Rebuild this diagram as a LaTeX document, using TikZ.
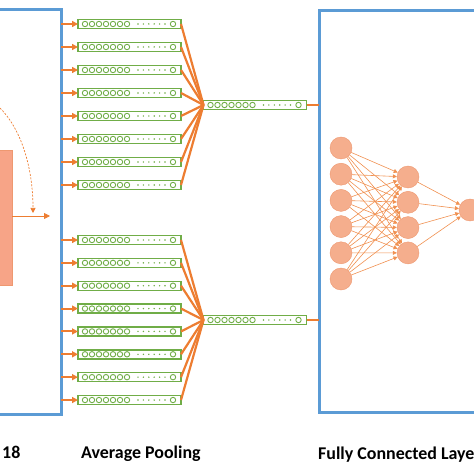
\documentclass[tikz,border=0pt]{standalone}
\usepackage{fontspec}
\setmainfont{Carlito}
\usetikzlibrary{arrows.meta,%
	positioning,%
	calc}
\definecolor{boxblue}{HTML}{5B9BD5}
\definecolor{lineorange}{HTML}{ED7D31}
\definecolor{bargreen}{HTML}{70AD47}
\definecolor{unitfill}{HTML}{F5AE8D}
\definecolor{unitdraw}{HTML}{EE9870}
\definecolor{blockfill}{HTML}{F7A487}

\begin{document}
\begin{tikzpicture}[x=1bp, y=-1bp, frame/.style = {draw=boxblue, line width=3bp, minimum width=#1, inner sep=0pt, outer sep=0pt}, featbar/.style = {draw=bargreen, line width=1.4bp, fill=white, minimum width=103bp, minimum height=9bp, inner sep=0pt, outer sep=0pt}, feed/.style = {draw=lineorange, line width=2bp, -{Triangle[length=6bp,width=6bp]}}, fan/.style = {draw=lineorange, line width=2.2bp}, unit/.style = {circle, draw=unitdraw, fill=unitfill, minimum size=22bp, inner sep=0pt}, link/.style = {draw=lineorange!85, line width=0.6bp, -{Triangle[length=4bp,width=4bp]}}, caption/.style = {font=\bfseries\fontsize{18}{20}\selectfont, anchor=base west, inner sep=0pt}]
	\useasboundingbox (0,0) rectangle (474,474);
	% frames
	\node[frame=71bp, minimum height=404bp] (cnn) at (25.5,212) {};
	\node[frame=171bp, minimum height=401bp] (fc) at (404.5,211.5) {};
	% backbone block
	\node[draw=unitdraw, fill=blockfill, minimum width=24bp, minimum height=135bp, inner sep=0pt] (block) at (0,217.5) {};
	\coordinate (src) at (0,108);
	\coordinate (drop) at (33,213);
	\coordinate (gap) at (50,216);
	\draw[lineorange, line width=0.7bp, dash pattern=on 2bp off 1.5bp, -{Triangle[length=5bp,width=5bp]}] (src) .. controls (20,128) and (33,165) .. (drop);
	\draw[lineorange, line width=0.8bp, -{Triangle[length=6bp,width=6bp]}] (block.east |- gap) -- (gap);
	% feature bars
	\foreach \i in {1,...,8}{
		\node[featbar] (t\i) at (129.5, {24+23*(\i-1)}) {};
		\node[featbar] (b\i) at (129.5, {240+22.86*(\i-1)}) {};
	}
	\node[featbar] (tp) at (255,105) {};
	\node[featbar] (bp) at (255,320) {};
	\foreach \n in {t1,t2,t3,t4,t5,t6,t7,t8,b1,b2,b3,b4,b5,b6,b7,b8,tp,bp}{
		\foreach \k in {1,...,7}
			\draw[bargreen, line width=0.9bp] ($(\n.west)+(7*\k,0)$) circle (2.7bp);
		\foreach \k in {0,...,5}
			\fill[bargreen] ($(\n.west)+(60+5.4*\k,0)$) circle (0.8bp);
		\draw[bargreen, line width=0.9bp] ($(\n.west)+(95,0)$) circle (2.7bp);
	}
	\foreach \i in {1,...,8}{
		\draw[feed] (cnn.east |- t\i) -- (t\i.west);
		\draw[feed] (cnn.east |- b\i) -- (b\i.west);
		\draw[fan] (t\i.east) -- (tp.west);
		\draw[fan] (b\i.east) -- (bp.west);
	}
	\draw[fan, line width=1.8bp] (tp.east) -- (fc.west |- tp);
	\draw[fan, line width=1.8bp] (bp.east) -- (fc.west |- bp);
	% fully connected net
	\foreach \a in {1,...,6}
		\node[unit] (i\a) at (341, {148+26.2*(\a-1)}) {};
	\foreach \b in {1,...,4}
		\node[unit] (h\b) at (408, {177+25.3*(\b-1)}) {};
	\node[unit] (o) at (470,210) {};
	\foreach \a in {1,...,6}
		\foreach \b in {1,...,4}
			\draw[link] (i\a) -- (h\b);
	\foreach \b in {1,...,4}
		\draw[link] (h\b) -- (o);
	% captions
	\node[caption] (lblnet) at (2,458) {18};
	\node[caption] (lblpool) at (81,458) {Average Pooling};
	\node[caption] (lblfc) at (318,459) {Fully Connected Laye};
\end{tikzpicture}
\end{document}
